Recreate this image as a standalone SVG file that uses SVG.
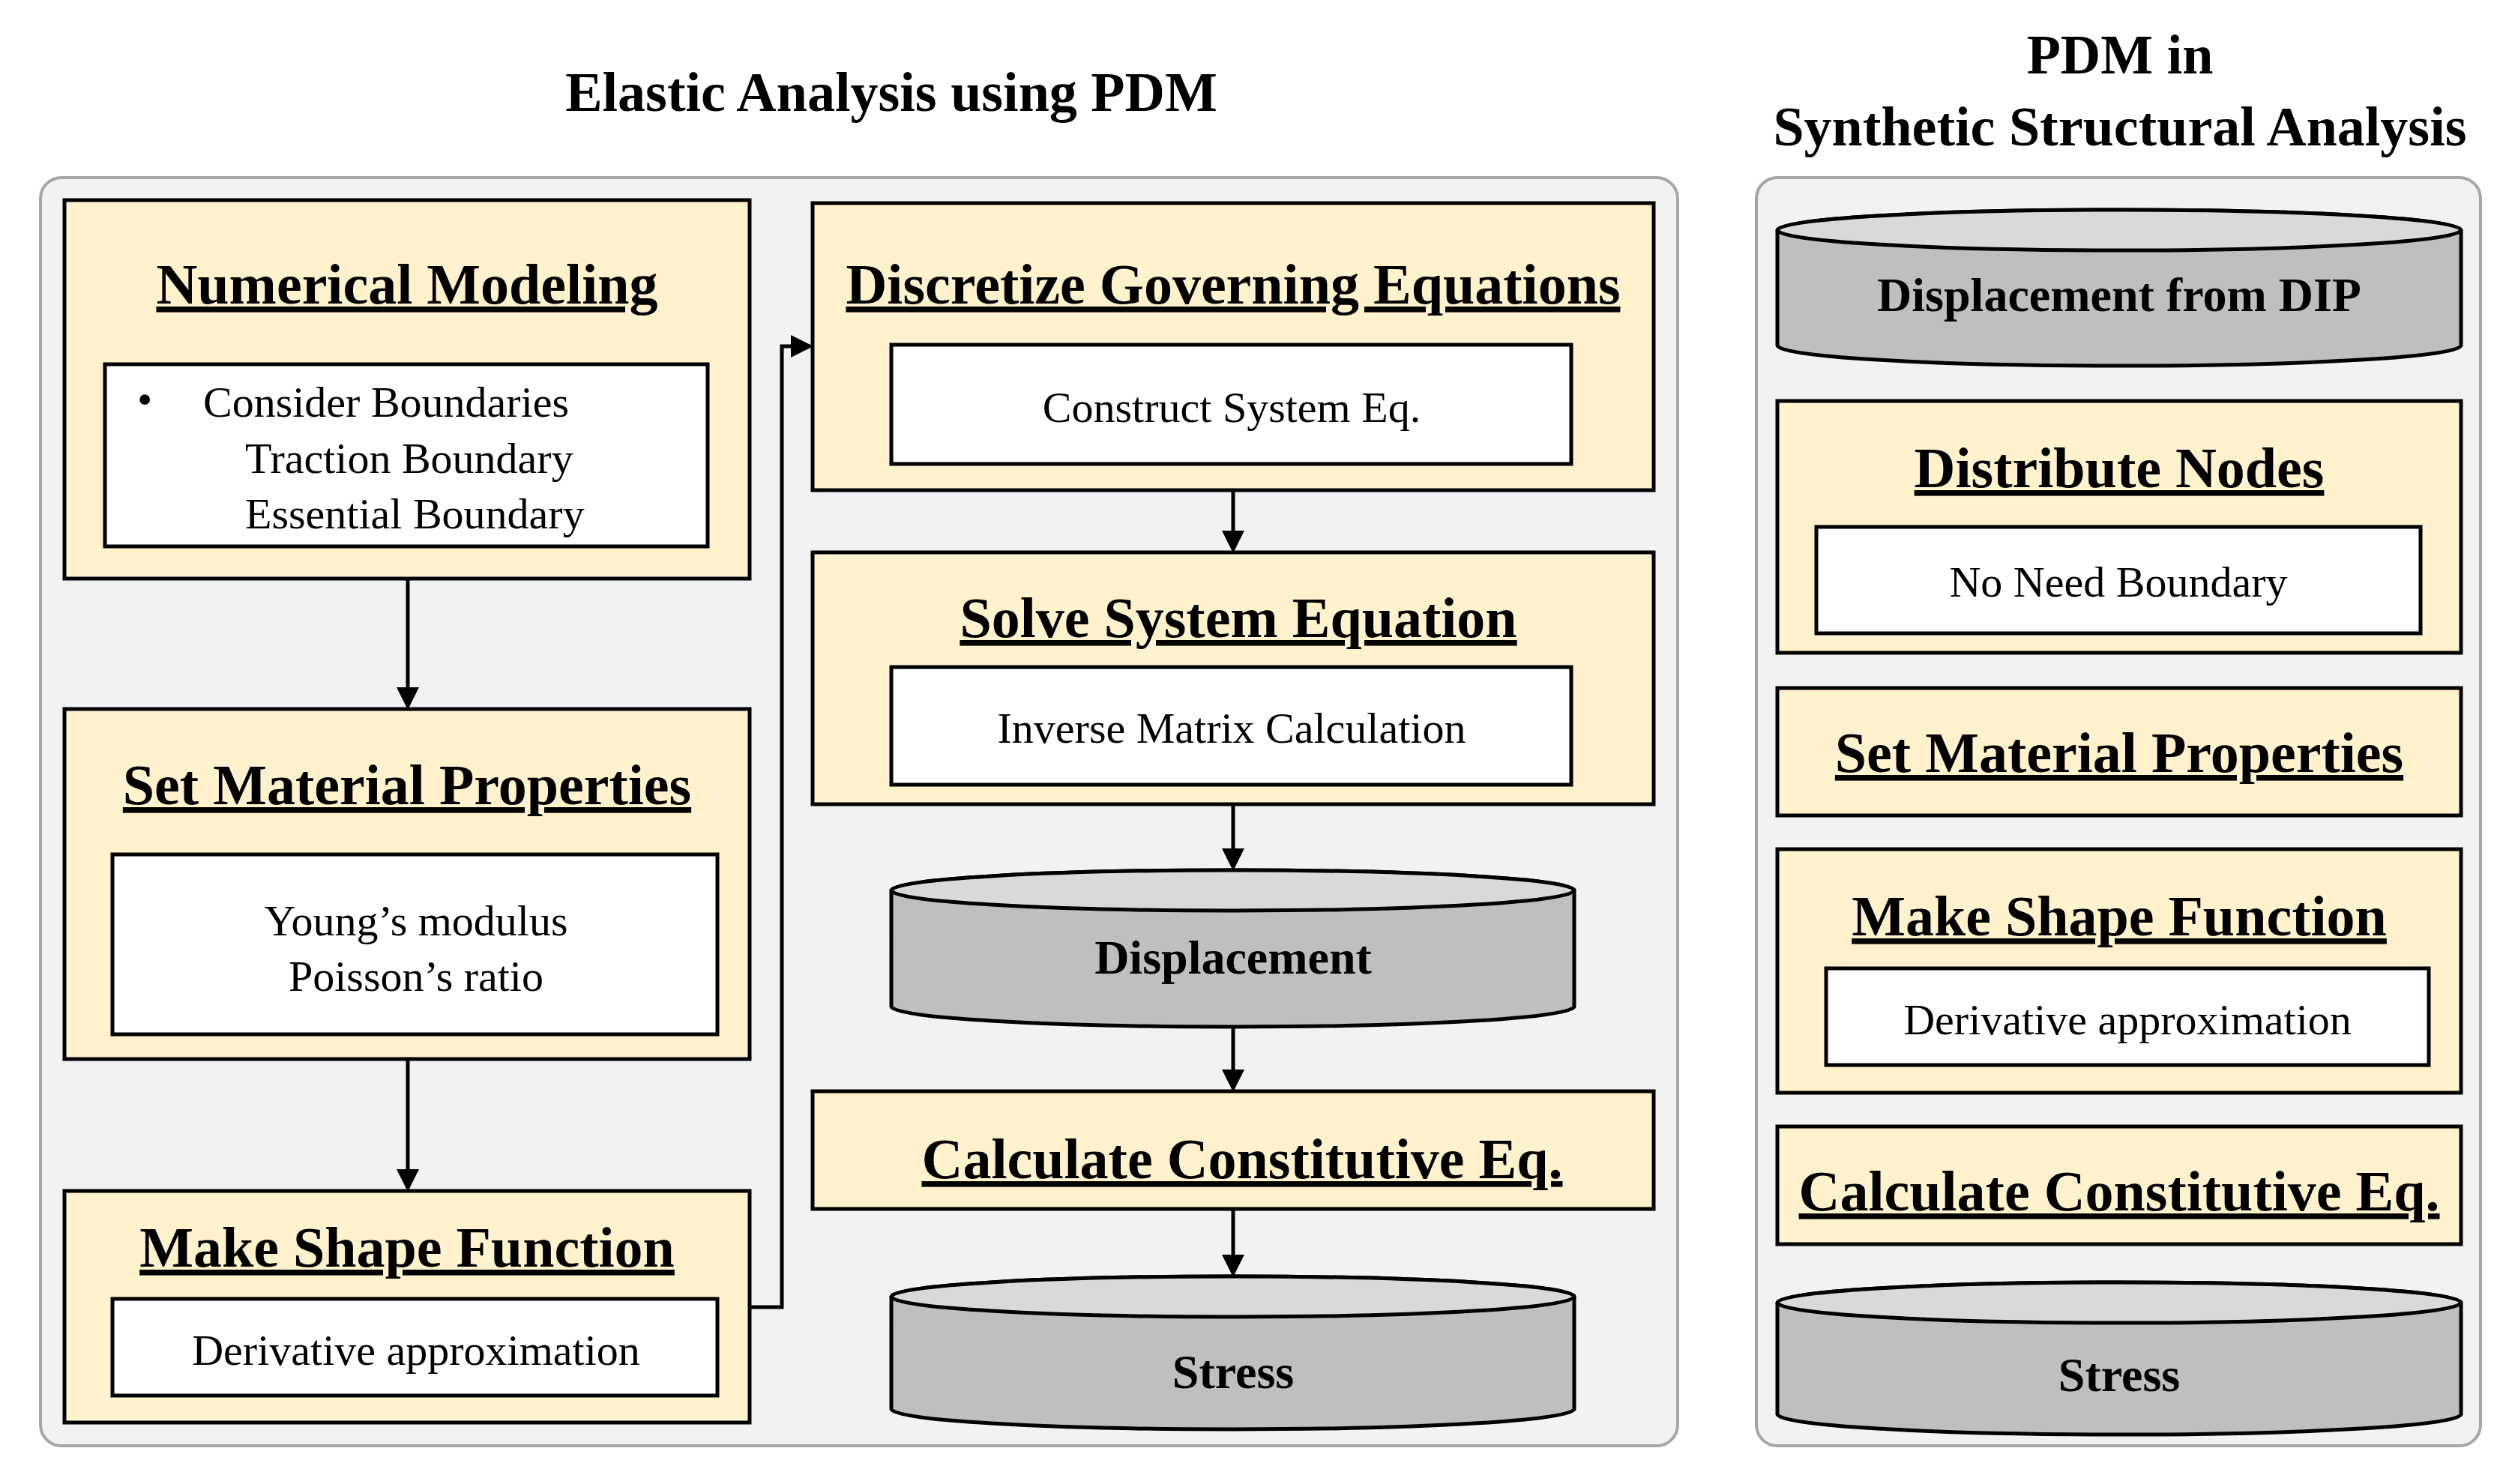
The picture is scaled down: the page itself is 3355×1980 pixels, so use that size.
<svg xmlns="http://www.w3.org/2000/svg" width="3355" height="1980" viewBox="0 0 3355 1980">
<style>
.panel{fill:#f2f2f2;stroke:#a6a6a6;stroke-width:4}
.box{fill:#fff2cc;stroke:#000;stroke-width:5}
.in{fill:#fff;stroke:#000;stroke-width:5}
.cyl{fill:#bfbfbf;stroke:#000;stroke-width:5}
.cap{fill:#d9d9d9;stroke:#000;stroke-width:5}
.h{font-family:"Liberation Serif",serif;font-weight:bold;font-size:76px;text-anchor:middle;text-decoration:underline}
.t{font-family:"Liberation Serif",serif;font-size:58px;text-anchor:middle}
.c{font-family:"Liberation Serif",serif;font-weight:bold;font-size:64px;text-anchor:middle}
.ttl{font-family:"Liberation Serif",serif;font-weight:bold;font-size:74px;text-anchor:middle}
.ln{fill:none;stroke:#000;stroke-width:5}
</style>
<defs><marker id="a" markerWidth="6" markerHeight="6" refX="5" refY="3" orient="auto" markerUnits="strokeWidth"><path d="M0,0L6,3L0,6z" fill="#000"/></marker></defs>
<rect width="3355" height="1980" fill="#fff"/>
<text class="ttl" x="1189" y="148">Elastic Analysis using PDM</text>
<text class="ttl" x="2828" y="98">PDM in</text>
<text class="ttl" x="2828" y="194">Synthetic Structural Analysis</text>
<rect class="panel" x="54" y="237" width="2184" height="1692" rx="28"/>
<rect class="panel" x="2343" y="237" width="966" height="1692" rx="28"/>
<g id="numerical"><rect class="box" x="86" y="267" width="914" height="505"/><text class="h" x="543" y="405">Numerical Modeling</text>
<rect class="in" x="140" y="486" width="804" height="243"/>
<text x="183" y="552" font-family="Liberation Serif,serif" font-size="58">•</text>
<text x="271" y="556" font-family="Liberation Serif,serif" font-size="58">Consider Boundaries</text>
<text x="327" y="631" font-family="Liberation Serif,serif" font-size="58">Traction Boundary</text>
<text x="327" y="705" font-family="Liberation Serif,serif" font-size="58">Essential Boundary</text></g>
<g id="material"><rect class="box" x="86" y="946" width="914" height="467"/><text class="h" x="543" y="1073">Set Material Properties</text>
<rect class="in" x="150" y="1140" width="807" height="240"/><text class="t" x="555" y="1248">Young’s modulus</text><text class="t" x="555" y="1322">Poisson’s ratio</text></g>
<g id="shape"><rect class="box" x="86" y="1589" width="914" height="309"/><text class="h" x="543" y="1690">Make Shape Function</text>
<rect class="in" x="150" y="1733" width="807" height="129"/><text class="t" x="555" y="1821">Derivative approximation</text></g>
<g id="discretize"><rect class="box" x="1084" y="271" width="1122" height="383"/><text class="h" x="1645" y="405">Discretize Governing Equations</text>
<rect class="in" x="1189" y="460" width="907" height="159"/><text class="t" x="1643" y="563">Construct System Eq.</text></g>
<g id="solve"><rect class="box" x="1084" y="737" width="1122" height="336"/><text class="h" x="1652" y="850">Solve System Equation</text>
<rect class="in" x="1189" y="890" width="907" height="157"/><text class="t" x="1643" y="991">Inverse Matrix Calculation</text></g>
<g id="displacement"><path class="cyl" d="M1189,1188A455,27 0 0 1 2100,1188V1343A455,27 0 0 1 1189,1343Z"/><ellipse class="cap" cx="1644.5" cy="1188" rx="455.5" ry="27"/><text class="c" x="1645" y="1299">Displacement</text></g>
<g id="constitutive"><rect class="box" x="1084" y="1456" width="1122" height="157"/><text class="h" x="1657" y="1572">Calculate Constitutive Eq.</text></g>
<g id="stress"><path class="cyl" d="M1189,1730A455,27 0 0 1 2100,1730V1880A455,27 0 0 1 1189,1880Z"/><ellipse class="cap" cx="1644.5" cy="1730" rx="455.5" ry="27"/><text class="c" x="1645" y="1852">Stress</text></g>
<g id="dip"><path class="cyl" d="M2371,307A456,27 0 0 1 3283,307V461A456,27 0 0 1 2371,461Z"/><ellipse class="cap" cx="2827" cy="307" rx="456" ry="27"/><text class="c" x="2827" y="415">Displacement from DIP</text></g>
<g id="nodes"><rect class="box" x="2371" y="535" width="912" height="336"/><text class="h" x="2827" y="650">Distribute Nodes</text>
<rect class="in" x="2423" y="703" width="806" height="142"/><text class="t" x="2826" y="796">No Need Boundary</text></g>
<g id="material2"><rect class="box" x="2371" y="918" width="912" height="170"/><text class="h" x="2827" y="1030">Set Material Properties</text></g>
<g id="shape2"><rect class="box" x="2371" y="1133" width="912" height="325"/><text class="h" x="2827" y="1248">Make Shape Function</text>
<rect class="in" x="2436" y="1292" width="804" height="129"/><text class="t" x="2838" y="1380">Derivative approximation</text></g>
<g id="constitutive2"><rect class="box" x="2371" y="1503" width="912" height="157"/><text class="h" x="2827" y="1615">Calculate Constitutive Eq.</text></g>
<g id="stress2"><path class="cyl" d="M2371,1738A456,27 0 0 1 3283,1738V1887A456,27 0 0 1 2371,1887Z"/><ellipse class="cap" cx="2827" cy="1738" rx="456" ry="27"/><text class="c" x="2827" y="1856">Stress</text></g>
<g id="connectors">
<path class="ln" marker-end="url(#a)" d="M544,772V942"/>
<path class="ln" marker-end="url(#a)" d="M544,1413V1585"/>
<path class="ln" marker-end="url(#a)" d="M1000,1744H1043V462H1080"/>
<path class="ln" marker-end="url(#a)" d="M1645,654V733"/>
<path class="ln" marker-end="url(#a)" d="M1645,1073V1157"/>
<path class="ln" marker-end="url(#a)" d="M1645,1370V1452"/>
<path class="ln" marker-end="url(#a)" d="M1645,1613V1699"/>
</g>
</svg>
